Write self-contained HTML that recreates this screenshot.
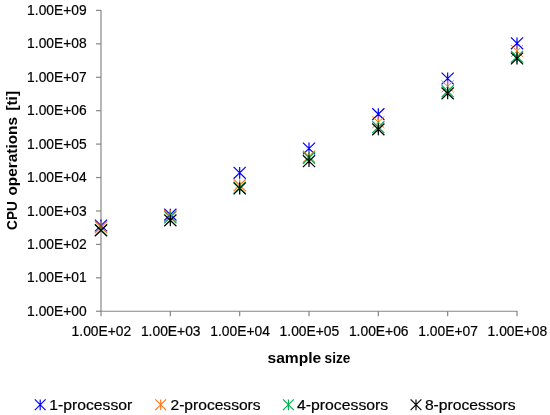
<!DOCTYPE html>
<html><head><meta charset="utf-8"><title>chart</title><style>html,body{margin:0;padding:0;background:#fff}body{width:550px;height:415px;overflow:hidden}</style></head><body>
<svg width="550" height="415" viewBox="0 0 550 415" style="display:block;font-family:'Liberation Sans',sans-serif">
<rect width="550" height="415" fill="#fff"/>
<g stroke="#868686" stroke-width="1.2" fill="none">
<path d="M101.0 9.9V311.75"/>
<path d="M100.5 311.25H517.5"/>
<path d="M96.0 311.25H101.0"/>
<path d="M96.0 277.82H101.0"/>
<path d="M96.0 244.40H101.0"/>
<path d="M96.0 210.97H101.0"/>
<path d="M96.0 177.54H101.0"/>
<path d="M96.0 144.11H101.0"/>
<path d="M96.0 110.68H101.0"/>
<path d="M96.0 77.26H101.0"/>
<path d="M96.0 43.83H101.0"/>
<path d="M96.0 10.40H101.0"/>
<path d="M101.00 311.25V316.25"/>
<path d="M170.33 311.25V316.25"/>
<path d="M239.67 311.25V316.25"/>
<path d="M309.00 311.25V316.25"/>
<path d="M378.33 311.25V316.25"/>
<path d="M447.66 311.25V316.25"/>
<path d="M517.00 311.25V316.25"/>
</g>
<g font-size="14" fill="#000" stroke="#000" stroke-width="0.2">
<text x="86.7" y="315.85" text-anchor="end" textLength="59.6" lengthAdjust="spacingAndGlyphs">1.00E+00</text>
<text x="86.7" y="282.42" text-anchor="end" textLength="59.6" lengthAdjust="spacingAndGlyphs">1.00E+01</text>
<text x="86.7" y="249.00" text-anchor="end" textLength="59.6" lengthAdjust="spacingAndGlyphs">1.00E+02</text>
<text x="86.7" y="215.57" text-anchor="end" textLength="59.6" lengthAdjust="spacingAndGlyphs">1.00E+03</text>
<text x="86.7" y="182.14" text-anchor="end" textLength="59.6" lengthAdjust="spacingAndGlyphs">1.00E+04</text>
<text x="86.7" y="148.71" text-anchor="end" textLength="59.6" lengthAdjust="spacingAndGlyphs">1.00E+05</text>
<text x="86.7" y="115.28" text-anchor="end" textLength="59.6" lengthAdjust="spacingAndGlyphs">1.00E+06</text>
<text x="86.7" y="81.86" text-anchor="end" textLength="59.6" lengthAdjust="spacingAndGlyphs">1.00E+07</text>
<text x="86.7" y="48.43" text-anchor="end" textLength="59.6" lengthAdjust="spacingAndGlyphs">1.00E+08</text>
<text x="86.7" y="15.00" text-anchor="end" textLength="59.6" lengthAdjust="spacingAndGlyphs">1.00E+09</text>
<text x="101.40" y="335.9" text-anchor="middle" textLength="59.6" lengthAdjust="spacingAndGlyphs">1.00E+02</text>
<text x="170.73" y="335.9" text-anchor="middle" textLength="59.6" lengthAdjust="spacingAndGlyphs">1.00E+03</text>
<text x="240.07" y="335.9" text-anchor="middle" textLength="59.6" lengthAdjust="spacingAndGlyphs">1.00E+04</text>
<text x="309.40" y="335.9" text-anchor="middle" textLength="59.6" lengthAdjust="spacingAndGlyphs">1.00E+05</text>
<text x="378.73" y="335.9" text-anchor="middle" textLength="59.6" lengthAdjust="spacingAndGlyphs">1.00E+06</text>
<text x="448.06" y="335.9" text-anchor="middle" textLength="59.6" lengthAdjust="spacingAndGlyphs">1.00E+07</text>
<text x="517.40" y="335.9" text-anchor="middle" textLength="59.6" lengthAdjust="spacingAndGlyphs">1.00E+08</text>
</g>
<text transform="translate(17.1 229.9) rotate(-90)" font-size="15" font-weight="bold" textLength="28.6" lengthAdjust="spacingAndGlyphs">CPU</text>
<text transform="translate(17.1 195.6) rotate(-90)" font-size="15" font-weight="bold" textLength="78.6" lengthAdjust="spacingAndGlyphs">operations</text>
<text transform="translate(17.1 110.6) rotate(-90)" font-size="15" font-weight="bold" textLength="19.6" lengthAdjust="spacingAndGlyphs">[ti]</text>
<text x="267.5" y="362.8" font-size="15" font-weight="bold" textLength="53.8" lengthAdjust="spacingAndGlyphs">sample</text>
<text x="324.6" y="362.8" font-size="15" font-weight="bold" textLength="25.8" lengthAdjust="spacingAndGlyphs">size</text>
<path d="M101.00 219.60L101.00 226.00" stroke="#0000FF" stroke-width="1.2" stroke-opacity="1" fill="none"/><path d="M94.90 219.60L107.10 231.40M107.10 219.60L94.90 231.40" stroke="#0000FF" stroke-width="1.2" fill="none"/>
<path d="M164.23 208.70L176.43 220.50M176.43 208.70L164.23 220.50M170.33 208.70L170.33 220.50" stroke="#0000FF" stroke-width="1.2" fill="none"/>
<path d="M233.57 166.90L245.77 178.70M245.77 166.90L233.57 178.70M239.67 166.90L239.67 178.70" stroke="#0000FF" stroke-width="1.2" fill="none"/>
<path d="M302.90 142.60L315.10 154.40M315.10 142.60L302.90 154.40M309.00 142.60L309.00 154.40" stroke="#0000FF" stroke-width="1.2" fill="none"/>
<path d="M372.23 108.20L384.43 120.00M384.43 108.20L372.23 120.00M378.33 108.20L378.33 120.00" stroke="#0000FF" stroke-width="1.2" fill="none"/>
<path d="M441.56 72.60L453.76 84.40M453.76 72.60L441.56 84.40M447.66 72.60L447.66 84.40" stroke="#0000FF" stroke-width="1.2" fill="none"/>
<path d="M510.90 37.40L523.10 49.20M523.10 37.40L510.90 49.20M517.00 37.40L517.00 49.20" stroke="#0000FF" stroke-width="1.2" fill="none"/>
<path d="M101.00 221.30L101.00 227.70" stroke="#FF7818" stroke-width="1.2" stroke-opacity="1" fill="none"/><path d="M94.90 221.30L107.10 233.10M107.10 221.30L94.90 233.10" stroke="#FF7818" stroke-width="1.2" fill="none"/>
<path d="M164.23 210.10L176.43 221.90M176.43 210.10L164.23 221.90M170.33 210.10L170.33 221.90" stroke="#FF7818" stroke-width="1.2" fill="none"/>
<path d="M233.57 179.30L245.77 191.10M245.77 179.30L233.57 191.10M239.67 179.30L239.67 191.10" stroke="#FF7818" stroke-width="1.2" fill="none"/>
<path d="M302.90 150.80L315.10 162.60M315.10 150.80L302.90 162.60M309.00 150.80L309.00 162.60" stroke="#FF7818" stroke-width="1.2" fill="none"/>
<path d="M372.23 116.30L384.43 128.10M384.43 116.30L372.23 128.10M378.33 116.30L378.33 128.10" stroke="#FF7818" stroke-width="1.0" fill="none"/>
<path d="M441.56 80.50L453.76 92.30M453.76 80.50L441.56 92.30M447.66 80.50L447.66 92.30" stroke="#FF7818" stroke-width="1.0" fill="none"/>
<path d="M510.90 45.10L523.10 56.90M523.10 45.10L510.90 56.90M517.00 45.10L517.00 56.90" stroke="#FF7818" stroke-width="1.0" fill="none"/>
<path d="M101.00 224.10L101.00 230.50" stroke="#00B050" stroke-width="1.2" stroke-opacity="0.45" fill="none"/><path d="M94.90 224.10L107.10 235.90M107.10 224.10L94.90 235.90" stroke="#00B050" stroke-width="1.2" fill="none"/>
<path d="M164.23 211.40L176.43 223.20M176.43 211.40L164.23 223.20M170.33 211.40L170.33 223.20" stroke="#00B050" stroke-width="1.2" fill="none"/>
<path d="M233.57 181.80L245.77 193.60M245.77 181.80L233.57 193.60M239.67 181.80L239.67 193.60" stroke="#00B050" stroke-width="1.2" fill="none"/>
<path d="M302.90 151.90L315.10 163.70M315.10 151.90L302.90 163.70M309.00 151.90L309.00 163.70" stroke="#00B050" stroke-width="1.2" fill="none"/>
<path d="M372.23 121.30L384.43 133.10M384.43 121.30L372.23 133.10M378.33 121.30L378.33 133.10" stroke="#00B050" stroke-width="1.2" fill="none"/>
<path d="M441.56 85.30L453.76 97.10M453.76 85.30L441.56 97.10M447.66 85.30L447.66 97.10" stroke="#00B050" stroke-width="1.2" fill="none"/>
<path d="M510.90 50.90L523.10 62.70M523.10 50.90L510.90 62.70M517.00 50.90L517.00 62.70" stroke="#00B050" stroke-width="1.2" fill="none"/>
<path d="M101.00 224.50L101.00 230.90" stroke="#000000" stroke-width="1.2" stroke-opacity="0.45" fill="none"/><path d="M94.90 224.50L107.10 236.30M107.10 224.50L94.90 236.30" stroke="#000000" stroke-width="1.2" fill="none"/>
<path d="M164.23 214.50L176.43 226.30M176.43 214.50L164.23 226.30M170.33 214.50L170.33 226.30" stroke="#000000" stroke-width="1.2" fill="none"/>
<path d="M233.57 182.60L245.77 194.40M245.77 182.60L233.57 194.40M239.67 182.60L239.67 194.40" stroke="#000000" stroke-width="1.2" fill="none"/>
<path d="M302.90 155.30L315.10 167.10M315.10 155.30L302.90 167.10M309.00 155.30L309.00 167.10" stroke="#000000" stroke-width="1.2" fill="none"/>
<path d="M372.23 123.50L384.43 135.30M384.43 123.50L372.23 135.30M378.33 123.50L378.33 135.30" stroke="#000000" stroke-width="1.2" fill="none"/>
<path d="M441.56 87.50L453.76 99.30M453.76 87.50L441.56 99.30M447.66 87.50L447.66 99.30" stroke="#000000" stroke-width="1.2" fill="none"/>
<path d="M510.90 52.60L523.10 64.40M523.10 52.60L510.90 64.40M517.00 52.60L517.00 64.40" stroke="#000000" stroke-width="1.2" fill="none"/>
<path d="M34.80 399.40L45.60 410.20M45.60 399.40L34.80 410.20M40.20 399.40L40.20 410.20" stroke="#0000FF" stroke-width="1.15" fill="none"/>
<text x="49.3" y="409.5" font-size="15.2" stroke="#000" stroke-width="0.2" textLength="83.0" lengthAdjust="spacingAndGlyphs">1-processor</text>
<path d="M155.30 399.40L166.10 410.20M166.10 399.40L155.30 410.20M160.70 399.40L160.70 410.20" stroke="#FF7818" stroke-width="1.15" fill="none"/>
<text x="170.5" y="409.5" font-size="15.2" stroke="#000" stroke-width="0.2" textLength="90.1" lengthAdjust="spacingAndGlyphs">2-processors</text>
<path d="M283.00 399.40L293.80 410.20M293.80 399.40L283.00 410.20M288.40 399.40L288.40 410.20" stroke="#00B050" stroke-width="1.15" fill="none"/>
<text x="297.0" y="409.5" font-size="15.2" stroke="#000" stroke-width="0.2" textLength="91.2" lengthAdjust="spacingAndGlyphs">4-processors</text>
<path d="M410.60 399.40L421.40 410.20M421.40 399.40L410.60 410.20M416.00 399.40L416.00 410.20" stroke="#000000" stroke-width="1.15" fill="none"/>
<text x="424.9" y="409.5" font-size="15.2" stroke="#000" stroke-width="0.2" textLength="90.7" lengthAdjust="spacingAndGlyphs">8-processors</text>
</svg>
</body></html>
